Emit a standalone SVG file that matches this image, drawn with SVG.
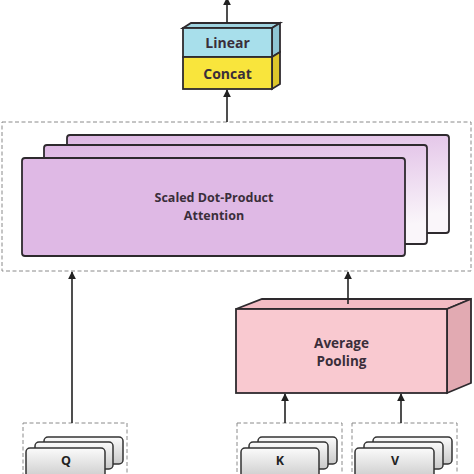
<svg xmlns="http://www.w3.org/2000/svg" width="474" height="474" viewBox="0 0 474 474">
<defs>
<linearGradient id="gBack" x1="0" y1="0" x2="0.3" y2="1">
<stop offset="0" stop-color="#ddb6e3"/>
<stop offset="1" stop-color="#faf6fa"/>
</linearGradient>
<linearGradient id="gGray" x1="0" y1="0" x2="0" y2="1">
<stop offset="0" stop-color="#fbfbfb"/>
<stop offset="1" stop-color="#c9c9c9"/>
</linearGradient>
<marker id="ah" viewBox="0 0 10 10" refX="9" refY="5" markerWidth="8" markerHeight="8" markerUnits="userSpaceOnUse" orient="auto">
<path d="M0,0 L10,5 L0,10 z" fill="#222"/>
</marker>
</defs>
<style>
.lbl{font-family:"Open Sans","Liberation Sans",sans-serif;font-weight:bold;fill:#3a2e3a;text-anchor:middle}
.edge{stroke:#222;stroke-width:1.6;fill:none;marker-end:url(#ah)}
.dash{fill:none;stroke:#8a8a8a;stroke-width:1;stroke-dasharray:4,2.5}
.box{stroke:#2e2a2e;stroke-width:1.8}
.key{fill:url(#gGray);stroke:#333;stroke-width:1.5}
</style>
<rect width="474" height="474" fill="#ffffff"/>

<g id="linear-concat">
<polygon class="box" points="183,28 191,23 280,23 272,28" fill="#9fd3df"/>
<polygon class="box" points="272,28 280,23 280,52 272,57" fill="#8ec5d3"/>
<polygon class="box" points="272,57 280,52 280,84 272,89" fill="#ddc62a"/>
<rect class="box" x="183" y="28" width="89" height="29" fill="#a8dfeb"/>
<rect class="box" x="183" y="57" width="89" height="32" fill="#f9e53c"/>
<text class="lbl" x="227.5" y="48" font-size="14">Linear</text>
<text class="lbl" x="227.5" y="79" font-size="14">Concat</text>
</g>

<g id="attention">
<rect class="dash" x="2" y="122" width="469" height="149"/>
<rect class="box" x="67" y="135" width="382" height="98" rx="3" fill="url(#gBack)"/>
<rect class="box" x="44" y="145" width="383" height="99" rx="3" fill="url(#gBack)"/>
<rect class="box" x="22" y="158" width="383" height="98" rx="3" fill="#dfb9e5"/>
<text class="lbl" x="214" y="202" font-size="12.5">Scaled Dot-Product</text>
<text class="lbl" x="214" y="219.5" font-size="12.5">Attention</text>
</g>

<g id="pooling">
<polygon class="box" points="236,309 262,299 471,299 447,309" fill="#f3bcc4"/>
<polygon class="box" points="447,309 471,299 471,383 447,393" fill="#e2aab2"/>
<rect class="box" x="236" y="309" width="211" height="84" fill="#f9c9d0"/>
<text class="lbl" x="341.5" y="348" font-size="13.5">Average</text>
<text class="lbl" x="341.5" y="366" font-size="13.5">Pooling</text>
</g>

<g id="Q">
<rect class="dash" x="23" y="423" width="104" height="56"/>
<rect class="key" x="44" y="437" width="79" height="27" rx="4"/>
<rect class="key" x="35" y="442" width="78" height="27" rx="4"/>
<rect class="key" x="26" y="448" width="79" height="32" rx="4"/>
<text class="lbl" x="66" y="465" font-size="12.5" style="fill:#222">Q</text>
</g>

<g id="K">
<rect class="dash" x="237" y="423" width="105" height="56"/>
<rect class="key" x="258" y="437" width="79" height="27" rx="4"/>
<rect class="key" x="249" y="442" width="79" height="27" rx="4"/>
<rect class="key" x="241" y="448" width="78" height="32" rx="4"/>
<text class="lbl" x="280" y="465" font-size="12.5" style="fill:#222">K</text>
</g>

<g id="V">
<rect class="dash" x="352" y="423" width="105" height="56"/>
<rect class="key" x="373" y="437" width="79" height="27" rx="4"/>
<rect class="key" x="364" y="442" width="79" height="27" rx="4"/>
<rect class="key" x="355" y="448" width="79" height="32" rx="4"/>
<text class="lbl" x="395" y="465" font-size="12.5" style="fill:#222">V</text>
</g>

<g id="connectors">
<line class="edge" x1="227" y1="23" x2="227" y2="-2"/>
<line class="edge" x1="227" y1="122" x2="227" y2="90"/>
<line class="edge" x1="72" y1="423" x2="72" y2="272"/>
<line class="edge" x1="348" y1="304" x2="348" y2="272"/>
<line class="edge" x1="285" y1="423" x2="285" y2="394"/>
<line class="edge" x1="401" y1="423" x2="401" y2="394"/>
</g>
</svg>
